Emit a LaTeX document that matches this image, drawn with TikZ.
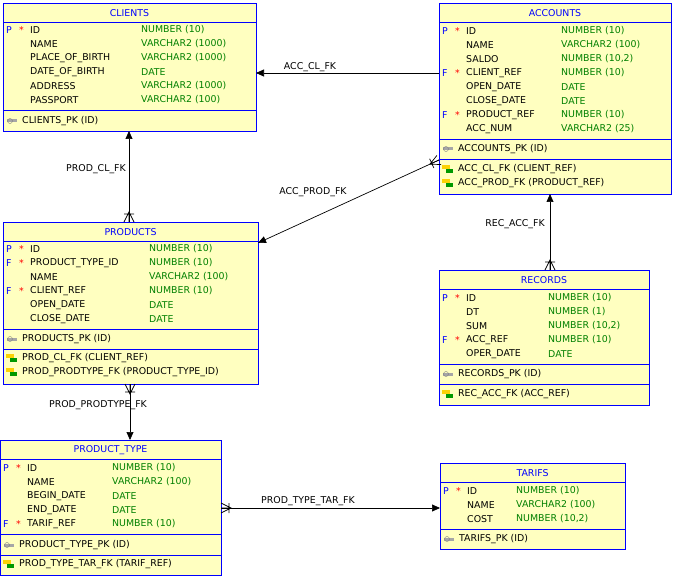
\documentclass[tikz,border=0pt]{standalone}
\usepackage{fontspec}
\setmainfont{DejaVu Sans}
\usetikzlibrary{arrows.meta}
\definecolor{tfill}{RGB}{255,255,192}
\definecolor{tblue}{RGB}{0,0,255}
\definecolor{tgreen}{RGB}{0,128,0}
\tikzset{
  tbl/.style={draw=tblue,fill=tfill,line width=0.9pt},
  sep/.style={draw=tblue,line width=0.9pt},
  ttl/.style={text=tblue,font=\fontsize{9.4}{10}\selectfont,inner sep=0pt},
  txt/.style={anchor=west,font=\fontsize{9.4}{10}\selectfont,inner sep=0pt},
  typ/.style={txt,text=tgreen},
  flag/.style={txt,text=tblue},
  star/.style={txt,text=red},
  conn/.style={line width=0.7pt},
  lbl/.style={font=\fontsize{9.4}{10}\selectfont,inner sep=0pt},
  tip/.style={-{Triangle[length=8pt,width=7pt]}}
}
\newcommand\ER[6]{%
  \draw[tbl] (#2,#3) rectangle (#2+#4,#6);
  \draw[sep] (#2,#3+19) -- (#2+#4,#3+19);
  \node[ttl] (#1) at (#2+#4/2,#3+10) {#5};
}
\newcommand\RW[7]{% x y typx flag star name type
  \node[flag] at (#1+3,#2) {#4};
  \node[star] at (#1+16,#2) {#5};
  \node[txt] at (#1+27,#2) {#6};
  \node[typ] at (#3,#2) {#7};
}
\newcommand\PK[3]{%
  \fill[gray!70] (#1+4,#2-1.5) rectangle (#1+14,#2+1.5);
  \draw[gray] (#1+7,#2) circle (2.5pt);
  \node[txt] at (#1+19,#2) {#3};
}
\newcommand\FK[3]{%
  \fill[yellow!70!orange] (#1+3,#2-4) rectangle (#1+11,#2);
  \fill[green!60!black] (#1+7,#2) rectangle (#1+14,#2+4);
  \node[txt] at (#1+19,#2) {#3};
}
\newcommand\HS[3]{\draw[sep] (#1,#3) -- (#2,#3);}
\newcommand\crow[2]{%
  \begin{scope}[shift={(#1)},rotate=#2,conn]
    \draw (0,5) -- (10,0) -- (0,-5) (0,0) -- (10,0) (8,-5) -- (8,5);
  \end{scope}}
\begin{document}
\begin{tikzpicture}[x=1pt,y=-1pt]
\useasboundingbox (0,0) rectangle (674,577);
% CLIENTS
\ER{clients}{3}{3}{253}{CLIENTS}{131}
\RW{3}{30}{141}{P}{*}{ID}{NUMBER (10)}
\RW{3}{44}{141}{}{}{NAME}{VARCHAR2 (1000)}
\RW{3}{58}{141}{}{}{PLACE\_OF\_BIRTH}{VARCHAR2 (1000)}
\RW{3}{72}{141}{}{}{DATE\_OF\_BIRTH}{DATE}
\RW{3}{86}{141}{}{}{ADDRESS}{VARCHAR2 (1000)}
\RW{3}{100}{141}{}{}{PASSPORT}{VARCHAR2 (100)}
\HS{3}{256}{110}
\PK{3}{121}{CLIENTS\_PK (ID)}
% ACCOUNTS
\ER{accounts}{439}{3}{232}{ACCOUNTS}{194}
\RW{439}{31}{561}{P}{*}{ID}{NUMBER (10)}
\RW{439}{45}{561}{}{}{NAME}{VARCHAR2 (100)}
\RW{439}{59}{561}{}{}{SALDO}{NUMBER (10,2)}
\RW{439}{73}{561}{F}{*}{CLIENT\_REF}{NUMBER (10)}
\RW{439}{87}{561}{}{}{OPEN\_DATE}{DATE}
\RW{439}{101}{561}{}{}{CLOSE\_DATE}{DATE}
\RW{439}{115}{561}{F}{*}{PRODUCT\_REF}{NUMBER (10)}
\RW{439}{129}{561}{}{}{ACC\_NUM}{VARCHAR2 (25)}
\HS{439}{671}{139}
\PK{439}{149}{ACCOUNTS\_PK (ID)}
\HS{439}{671}{159}
\FK{439}{169}{ACC\_CL\_FK (CLIENT\_REF)}
\FK{439}{183}{ACC\_PROD\_FK (PRODUCT\_REF)}
% PRODUCTS
\ER{products}{3}{222}{255}{PRODUCTS}{384}
\RW{3}{249}{149}{P}{*}{ID}{NUMBER (10)}
\RW{3}{263}{149}{F}{*}{PRODUCT\_TYPE\_ID}{NUMBER (10)}
\RW{3}{277}{149}{}{}{NAME}{VARCHAR2 (100)}
\RW{3}{291}{149}{F}{*}{CLIENT\_REF}{NUMBER (10)}
\RW{3}{305}{149}{}{}{OPEN\_DATE}{DATE}
\RW{3}{319}{149}{}{}{CLOSE\_DATE}{DATE}
\HS{3}{258}{329}
\PK{3}{339}{PRODUCTS\_PK (ID)}
\HS{3}{258}{349}
\FK{3}{358}{PROD\_CL\_FK (CLIENT\_REF)}
\FK{3}{372}{PROD\_PRODTYPE\_FK (PRODUCT\_TYPE\_ID)}
% RECORDS
\ER{records}{439}{270}{210}{RECORDS}{405}
\RW{439}{298}{548}{P}{*}{ID}{NUMBER (10)}
\RW{439}{312}{548}{}{}{DT}{NUMBER (1)}
\RW{439}{326}{548}{}{}{SUM}{NUMBER (10,2)}
\RW{439}{340}{548}{F}{*}{ACC\_REF}{NUMBER (10)}
\RW{439}{354}{548}{}{}{OPER\_DATE}{DATE}
\HS{439}{649}{364}
\PK{439}{374}{RECORDS\_PK (ID)}
\HS{439}{649}{384}
\FK{439}{394}{REC\_ACC\_FK (ACC\_REF)}
% PRODUCT_TYPE
\ER{ptype}{0}{440}{221}{PRODUCT\_TYPE}{575}
\RW{0}{468}{112}{P}{*}{ID}{NUMBER (10)}
\RW{0}{482}{112}{}{}{NAME}{VARCHAR2 (100)}
\RW{0}{496}{112}{}{}{BEGIN\_DATE}{DATE}
\RW{0}{510}{112}{}{}{END\_DATE}{DATE}
\RW{0}{524}{112}{F}{*}{TARIF\_REF}{NUMBER (10)}
\HS{0}{221}{534}
\PK{0}{545}{PRODUCT\_TYPE\_PK (ID)}
\HS{0}{221}{555}
\FK{0}{564}{PROD\_TYPE\_TAR\_FK (TARIF\_REF)}
% TARIFS
\ER{tarifs}{440}{463}{185}{TARIFS}{549}
\RW{440}{491}{516}{P}{*}{ID}{NUMBER (10)}
\RW{440}{505}{516}{}{}{NAME}{VARCHAR2 (100)}
\RW{440}{519}{516}{}{}{COST}{NUMBER (10,2)}
\HS{440}{625}{529}
\PK{440}{539}{TARIFS\_PK (ID)}
% connector endpoints
\coordinate (accL1) at (439,73);  \coordinate (clR) at (256,73);
\coordinate (clB) at (129,131);   \coordinate (prT) at (129,222);
\coordinate (accL2) at (439,160); \coordinate (prR) at (258,243);
\coordinate (accB) at (550,194);  \coordinate (reT) at (550,270);
\coordinate (prB) at (130,384);   \coordinate (ptT) at (130,440);
\coordinate (ptR) at (221,508);   \coordinate (taL) at (440,508);
\draw[conn,tip] (accL1) -- (clR);
\draw[conn,tip] (prT) -- (clB);
\draw[conn,tip] (accL2) -- (prR);
\draw[conn,tip] (reT) -- (accB);
\draw[conn,tip] (prB) -- (ptT);
\draw[conn,tip] (ptR) -- (taL);
\crow{prT}{90}
\crow{accL2}{204.6}
\crow{reT}{90}
\crow{prB}{-90}
\crow{ptR}{0}
\node[lbl] (l1) at (310,67) {ACC\_CL\_FK};
\node[lbl] (l2) at (96,169) {PROD\_CL\_FK};
\node[lbl] (l3) at (313,192) {ACC\_PROD\_FK};
\node[lbl] (l4) at (515,224) {REC\_ACC\_FK};
\node[lbl] (l5) at (98,405) {PROD\_PRODTYPE\_FK};
\node[lbl] (l6) at (308,501) {PROD\_TYPE\_TAR\_FK};
\end{tikzpicture}
\end{document}
